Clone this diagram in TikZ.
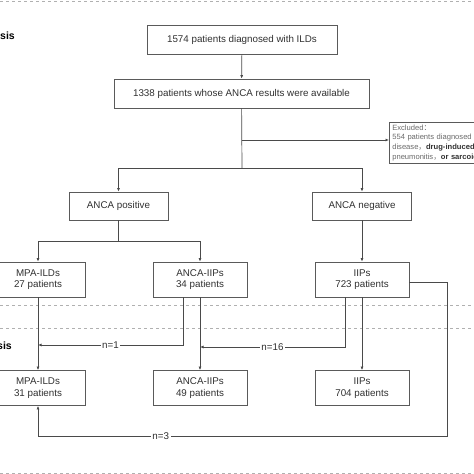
\documentclass[tikz,border=0pt]{standalone}
\usepackage{fontspec}
\setmainfont{Liberation Sans}
\newfontfamily\cjk{Noto Sans CJK SC}
\usetikzlibrary{positioning,arrows.meta,calc}
\definecolor{boxgray}{HTML}{5A5A5A}
\definecolor{linegray}{HTML}{4A4A4A}
\definecolor{textgray}{HTML}{303030}
\definecolor{sepgray}{HTML}{B0B0B0}
\definecolor{notegray}{HTML}{6A6A6A}

\begin{document}
\begin{tikzpicture}[x=1pt, y=-1pt,
    box/.style={draw=boxgray, line width=0.8pt, text=textgray, align=center,
                font=\fontsize{9.8}{11.5}\selectfont, inner sep=0pt},
    wide/.style={box, minimum height=29pt},
    group/.style={box, minimum width=99pt, minimum height=28pt},
    cohort/.style={box, minimum width=94pt, minimum height=35pt},
    link/.style={draw=linegray, line width=0.7pt},
    arr/.style={link, -{Latex[length=3.5pt,width=3pt]}},
    sep/.style={draw=sepgray, dashed, line width=0.6pt},
    nlab/.style={fill=white, text=textgray, font=\fontsize{9.8}{11.5}\selectfont, inner sep=1.5pt},
    phase/.style={anchor=east, font=\bfseries\fontsize{10.5}{12}\selectfont, inner sep=0pt},
]
\useasboundingbox (0,0) rectangle (474,474);
\clip (0,0) rectangle (474,474);

% separators
\draw[sep] (0,1) -- (474,1);
\draw[sep] (0,305) -- (474,305);
\draw[sep] (0,328) -- (474,328);
\draw[sep] (0,473) -- (474,473);

\node[phase] (phaseA) at (15,37) {diagnosis};
\node[phase] (phaseB) at (12,347) {diagnosis};

% screening
\node[wide, minimum width=190pt] (all) at (242,39.5) {1574 patients diagnosed with ILDs};
\node[wide, minimum width=255pt] (avail) at (241.5,93.5) {1338 patients whose ANCA results were available};
\node[box, anchor=north west, minimum width=180pt, minimum height=41pt,
      text width=174pt, align=left, inner xsep=3pt, inner ysep=1pt,
      line width=0.6pt, text=notegray, font=\fontsize{7.6}{9.6}\selectfont] (excl) at (389,122)
    {Excluded{\cjk ：}\\
     554 patients diagnosed with connective tissue\\
     disease{\cjk ，}\textcolor{textgray}{\textbf{drug-induced}} interstitial\\
     pneumonitis{\cjk ，}\textcolor{textgray}{\textbf{or sarcoidosis}}};

% ANCA groups
\node[group] (pos) at (118.5,206) {ANCA positive};
\node[group] (neg) at (362,206) {ANCA negative};

% initial diagnosis
\node[cohort] (mpaA) at (38,279.5) {MPA-ILDs\\27 patients};
\node[cohort] (aiipA) at (200,279.5) {ANCA-IIPs\\34 patients};
\node[cohort] (iipA) at (362,279.5) {IIPs\\723 patients};

% final diagnosis
\node[cohort] (mpaB) at (38,388) {MPA-ILDs\\31 patients};
\node[cohort] (aiipB) at (200,388) {ANCA-IIPs\\49 patients};
\node[cohort] (iipB) at (362,388) {IIPs\\704 patients};

\coordinate (fork) at (242,140);
\coordinate (split) at (242,168);
\coordinate (posfork) at (118.5,241);
\coordinate (hitA) at (38,345);
\coordinate (hitB) at (200,347);
\coordinate (loopA) at (447,282);
\coordinate (loopB) at (447,436);

\draw[arr] (all) -- (avail);
\draw[link] (avail) -- (split);
\draw[arr] (fork) -- (excl.west |- fork);
\draw[arr] (split) -| (pos.north);
\draw[arr] (split) -| (neg.north);
\draw[link] (pos) -- (posfork);
\draw[arr] (posfork) -| (mpaA.north);
\draw[arr] (posfork) -| (aiipA.north);
\draw[arr] (neg) -- (iipA);

\draw[arr] (mpaA) -- (mpaB);
\draw[arr] (aiipA) -- (aiipB);
\draw[arr] (iipA) -- (iipB);
\draw[arr] ([xshift=-17pt]aiipA.south) |- node[nlab, pos=0.75] {n=1} (hitA);
\draw[arr] ([xshift=-17pt]iipA.south) |- node[nlab, pos=0.75] {n=16} (hitB);
\draw[arr] ([yshift=-2.5pt]iipA.east) -- (loopA) -- (loopB)
    -- node[nlab, pos=0.7] {n=3} (mpaB.south |- loopB) -- (mpaB.south);
\end{tikzpicture}
\end{document}
